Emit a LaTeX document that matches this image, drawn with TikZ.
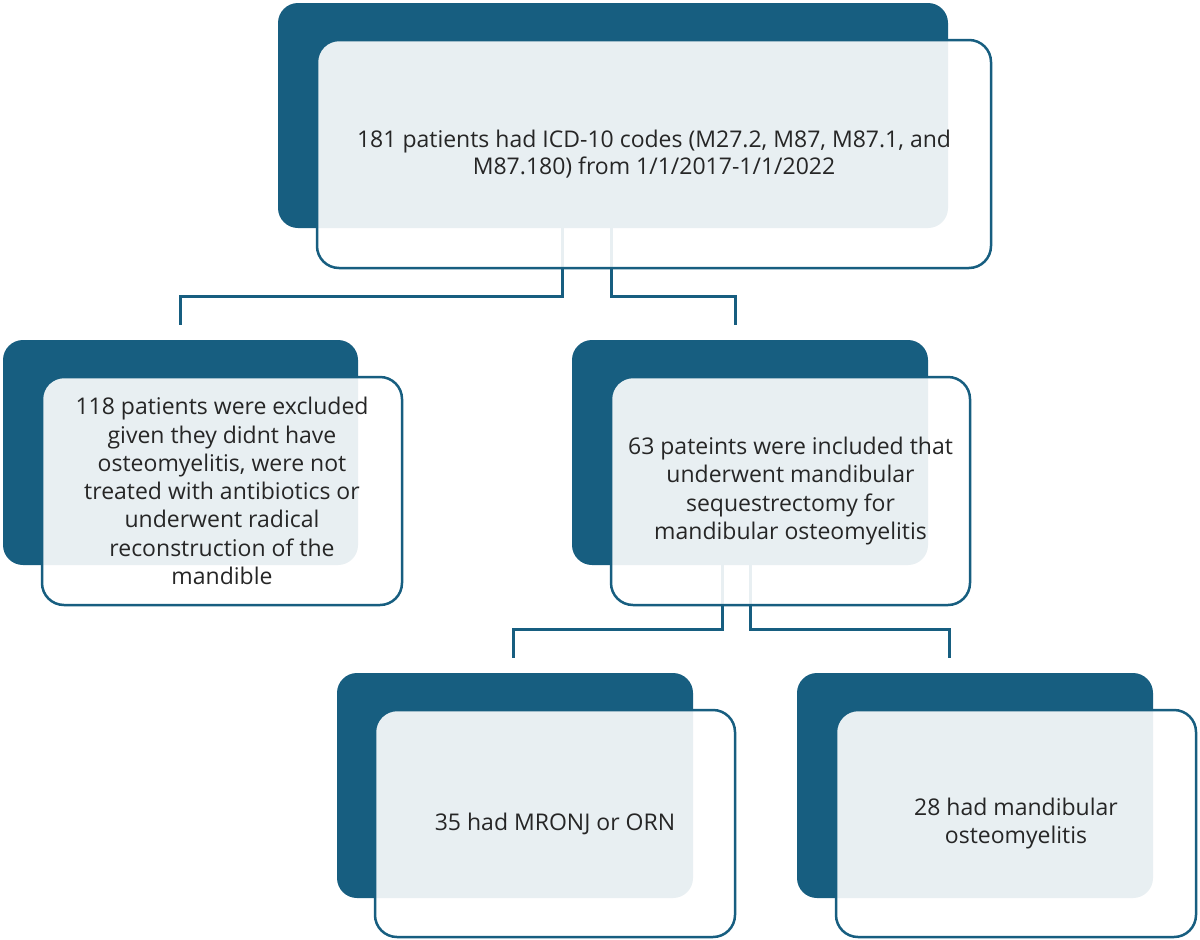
\documentclass[tikz,border=0pt]{standalone}
\usepackage{fontspec}
\setmainfont{Open Sans}
\definecolor{boxdark}{RGB}{23,94,128}
\definecolor{textgray}{RGB}{38,38,38}
\begin{document}
\begin{tikzpicture}[x=1pt,y=-1pt]
\tikzset{
  back/.style={fill=boxdark, rounded corners=20pt, inner sep=0pt},
  front/.style={draw=boxdark, line width=2.5pt, fill=white, fill opacity=0.9, text opacity=1, rounded corners=22pt, inner sep=0pt, text=textgray, align=center},
  link/.style={draw=boxdark, line width=3pt},
  lbl/.style={font=\fontsize{23}{28.3}\selectfont},
  toplbl/.style={font=\fontsize{23}{27}\selectfont}
}
\useasboundingbox (0,0) rectangle (1200,940);
\fill[white] (0,0) rectangle (1200,940);
% back boxes
\node[back, minimum width=670pt, minimum height=225pt] (b1) at (613,115.5) {};
\node[back, minimum width=355pt, minimum height=225pt] (b2) at (180.5,452.5) {};
\node[back, minimum width=356pt, minimum height=225pt] (b3) at (750,452.5) {};
\node[back, minimum width=356pt, minimum height=225pt] (b4) at (515,785.5) {};
\node[back, minimum width=356pt, minimum height=225pt] (b5) at (975,785.5) {};
% connectors
\draw[link] ([xshift=-51pt]b1.south) -- ++(0,68) -| ([yshift=15pt]b2.north);
\draw[link] ([xshift=-2pt]b1.south) -- ++(0,68) -| ([xshift=-15pt,yshift=15pt]b3.north);
\draw[link] ([xshift=-28pt]b3.south) -- ++(0,64) -| ([xshift=-2pt,yshift=15pt]b4.north);
\draw[link] ([xshift=0pt]b3.south) -- ++(0,64) -| ([xshift=-26pt,yshift=15pt]b5.north);
% front boxes
\node[front, toplbl, minimum width=674pt, minimum height=228pt] (f1) at (654,154)
  {181 patients had ICD-10 codes (M27.2, M87, M87.1, and\\M87.180) from 1/1/2017-1/1/2022};
\node[front, lbl, minimum width=360pt, minimum height=228pt] (f2) at (222,491)
  {118 patients were excluded\\given they didnt have\\osteomyelitis, were not\\treated with antibiotics or\\underwent radical\\reconstruction of the\\mandible};
\node[front, lbl, minimum width=359pt, minimum height=228pt] (f3) at (790.5,491)
  {63 pateints were included that\\underwent mandibular\\sequestrectomy for\\mandibular osteomyelitis};
\node[front, lbl, minimum width=360pt, minimum height=227pt] (f4) at (555,823.5)
  {35 had MRONJ or ORN};
\node[front, lbl, minimum width=360pt, minimum height=227pt] (f5) at (1016,823.5)
  {28 had mandibular\\osteomyelitis};
\end{tikzpicture}
\end{document}
